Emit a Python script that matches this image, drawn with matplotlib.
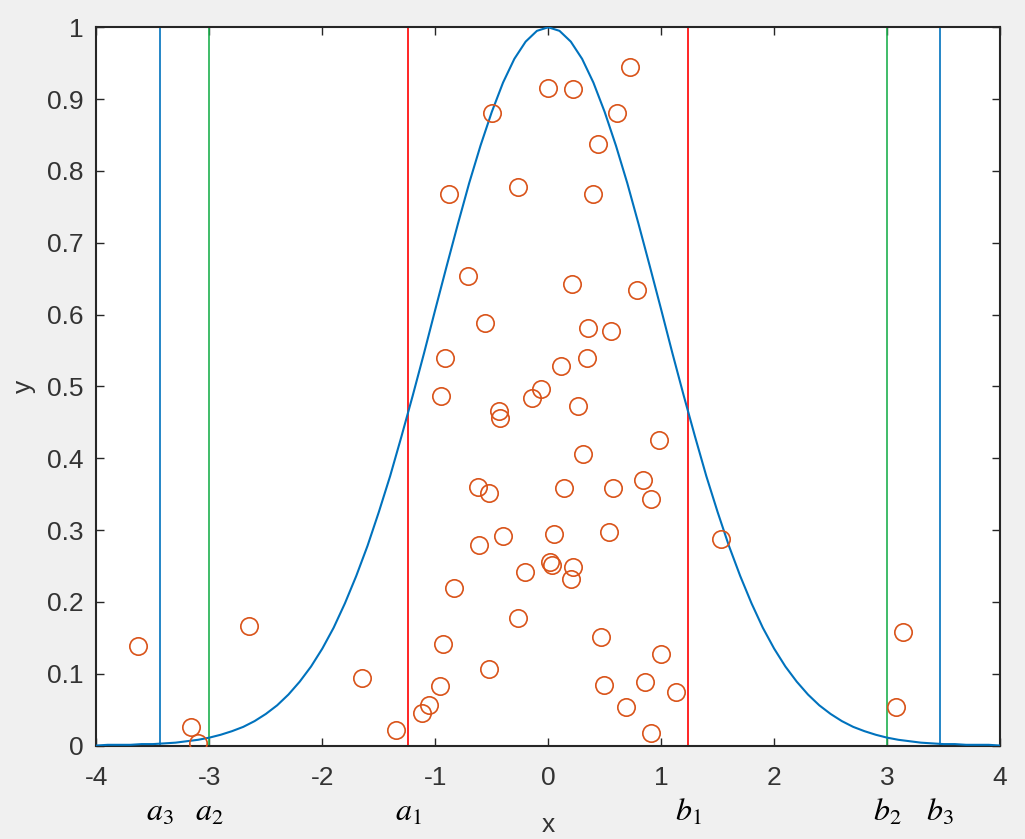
import numpy as np
import matplotlib
matplotlib.use('Agg')
import matplotlib.pyplot as plt

# gaussian curve, values read at x step 0.1 (right half, mirrored)
curve_half = [1.000, 0.995, 0.980, 0.956, 0.923, 0.882, 0.835, 0.783, 0.726, 0.667,
              0.607, 0.546, 0.487, 0.430, 0.375, 0.325, 0.278, 0.236, 0.198, 0.164,
              0.135, 0.110, 0.089, 0.071, 0.056, 0.044, 0.034, 0.026, 0.020, 0.015,
              0.011, 0.008, 0.006, 0.004, 0.003, 0.002, 0.002, 0.001, 0.001, 0.001,
              0.000]
curve_x = [round(-4 + 0.1 * i, 1) for i in range(81)]
curve_y = curve_half[::-1] + curve_half[1:]

# scattered sample points
pts_x = [-3.63, -3.16, -3.10, -2.65, -1.65, -1.35, -1.12, -1.06, -0.96, -0.93,
         -0.83, -0.52, -0.61, -0.40, -0.27, -0.21, 0.05, 0.02, 0.03, 0.22,
         0.20, 0.54, 0.47, 0.49, 0.69, 0.86, 1.00, 1.13, 0.91, 0.91,
         1.53, -0.71, 0.21, 0.79, -0.56, 0.35, 0.56, -0.91, 0.34, 0.11,
         -0.06, -0.14, -0.95, 0.26, -0.44, -0.43, 0.98, 0.31, -0.62, -0.52,
         0.14, 0.57, 0.84, 0.72, 0.00, 0.22, -0.50, 0.61, 0.44, -0.88,
         -0.27, 0.40, 3.14, 3.08]
pts_y = [0.139, 0.026, 0.003, 0.166, 0.094, 0.021, 0.045, 0.057, 0.083, 0.142,
         0.220, 0.106, 0.279, 0.292, 0.177, 0.241, 0.294, 0.256, 0.251, 0.248,
         0.232, 0.297, 0.151, 0.084, 0.053, 0.088, 0.127, 0.075, 0.017, 0.343,
         0.287, 0.654, 0.643, 0.634, 0.588, 0.582, 0.577, 0.539, 0.540, 0.529,
         0.497, 0.484, 0.486, 0.473, 0.466, 0.456, 0.426, 0.406, 0.360, 0.352,
         0.359, 0.359, 0.370, 0.945, 0.916, 0.914, 0.881, 0.880, 0.838, 0.768,
         0.777, 0.768, 0.158, 0.053]

# interval bounds
bounds = [-3.44, -3.0, -1.24, 1.24, 3.0, 3.47]
bound_labels = [r'$a_3$', r'$a_2$', r'$a_1$', r'$b_1$', r'$b_2$', r'$b_3$']
bound_colors = ['#0072BD', '#1FB04F', '#FF0000', '#FF0000', '#1FB04F', '#0072BD']

plt.rcParams['mathtext.fontset'] = 'stix'
plt.rcParams['axes.unicode_minus'] = False
plt.rcParams['font.family'] = ['Liberation Sans', 'DejaVu Sans']

fig = plt.figure(figsize=(10.25, 8.39), dpi=100, facecolor='#F0F0F0')
ax = fig.add_axes([0.0941, 0.1114, 0.8815, 0.8561])

ax.plot(curve_x, curve_y, color='#0072BD', linewidth=1.5, zorder=3)
for xb, c in zip(bounds, bound_colors):
    ax.axvline(xb, color=c, linewidth=1.2, zorder=2)
ax.plot(pts_x, pts_y, linestyle='none', marker='o', markersize=12.5,
        markerfacecolor='none', markeredgecolor='#D95319', markeredgewidth=1.2, zorder=4)

ax.set_xlim(-4, 4)
ax.set_ylim(0, 1)
ax.set_xticks(range(-4, 5))
ax.set_yticks(np.arange(0, 1.01, 0.1))
ax.set_yticklabels(['0', '0.1', '0.2', '0.3', '0.4', '0.5', '0.6', '0.7', '0.8', '0.9', '1'])

for s in ax.spines.values():
    s.set_color('#262626')
    s.set_linewidth(1.5)
ax.tick_params(direction='in', top=True, right=True, length=6, width=1,
               color='#262626', labelcolor='#333333', labelsize=19)
ax.tick_params(axis='x', pad=15)
ax.tick_params(axis='y', pad=9)

ax.set_xlabel('x', fontsize=19, color='#333333', labelpad=16)
ax.set_ylabel('y', fontsize=19, color='#333333', labelpad=8)

for xb, lab in zip(bounds, bound_labels):
    ax.text(xb, -0.093, lab, fontsize=23, ha='center', va='center', color='black',
            clip_on=False)

fig.savefig('out.png', dpi=100, facecolor=fig.get_facecolor())
